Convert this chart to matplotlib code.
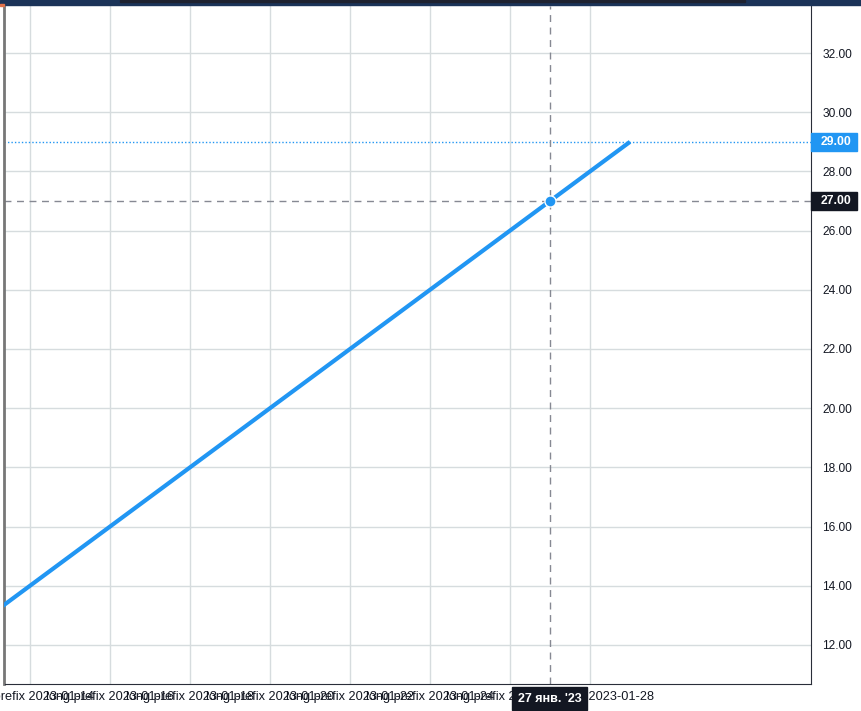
import matplotlib
matplotlib.use("Agg")
import matplotlib.pyplot as plt
import matplotlib.dates as mdates
from matplotlib.patches import Rectangle
import datetime as dt

plt.rcParams['font.family'] = ['Liberation Sans', 'DejaVu Sans']

# data: one point per day, value equals the day
days = [dt.date(2023, 1, d) for d in range(12, 30)]
values = [12, 13, 14, 15, 16, 17, 18, 19, 20, 21, 22, 23, 24, 25, 26, 27, 28, 29]
tick_days = [dt.date(2023, 1, d) for d in (14, 16, 18, 20, 22, 24, 26, 28)]
tick_labels = ['long prefix ' + d.strftime('%Y-%m-%d') for d in tick_days]
y_ticks = [12, 14, 16, 18, 20, 22, 24, 26, 28, 30, 32]
cross_day = dt.date(2023, 1, 27)
cross_value = 27
cross_label = "27 янв. '23"
last_value = values[-1]

blue = '#2196F3'
dark = '#131722'
grid = '#D6DCDE'

W, H = 862, 711
fig = plt.figure(figsize=(W / 100, H / 100), dpi=100)
ax = fig.add_axes([4.5 / W, (H - 684) / H, (811 - 4.5) / W, (684 - 6) / H])

x = mdates.date2num(days)
ax.plot(x, values, color=blue, lw=3, solid_capstyle='butt', zorder=3)

xmin = mdates.date2num(dt.date(2023, 1, 14)) - 25.5 / 40
xmax = mdates.date2num(dt.date(2023, 1, 27)) + 261 / 40
ax.set_xlim(xmin, xmax)
ax.set_ylim(10.68, 33.59)

ax.set_xticks(mdates.date2num(tick_days))
ax.set_xticklabels(tick_labels, fontsize=9.2, color=dark)
ax.set_yticks(y_ticks)
ax.set_yticklabels(['%.2f' % v for v in y_ticks], fontsize=8.6, color=dark)
ax.yaxis.tick_right()
ax.tick_params(axis='both', length=0)
ax.tick_params(axis='y', pad=8)
ax.tick_params(axis='x', pad=5)
ax.grid(True, color=grid, lw=1)
ax.set_axisbelow(True)

ax.spines['top'].set_visible(False)
ax.spines['right'].set_color('#2A2E39')
ax.spines['bottom'].set_color('#2A2E39')
ax.spines['left'].set_color('#777777')
ax.spines['left'].set_linewidth(2)

# last value price line
ax.axhline(last_value, color=blue, lw=1, ls=(0, (1, 1.5)), zorder=2)

# crosshair
cx = mdates.date2num(cross_day)
ax.axvline(cx, color='#868993', lw=1, ls=(0, (5, 4)), zorder=2)
ax.axhline(cross_value, color='#868993', lw=1, ls=(0, (5, 4)), zorder=2)
ax.plot([cx], [cross_value], 'o', ms=8, color=blue, mec='white', mew=1, zorder=4)

# price labels on the right scale
ytr = ax.get_yaxis_transform()
bw = 46 / 806.5
bh = 18 / 29.6
for val, col in [(last_value, blue), (cross_value, dark)]:
    ax.add_patch(Rectangle((1.0, val - bh / 2), bw, bh, transform=ytr,
                           color=col, clip_on=False, zorder=10))
    ax.text(1.0 + bw / 2 + 0.002, val, '%.2f' % val, transform=ytr, color='white',
            fontsize=8.8, fontweight='bold', ha='center', va='center',
            clip_on=False, zorder=11)

# time label of crosshair
xtr = ax.get_xaxis_transform()
ax.add_patch(Rectangle((cx - 75 / 80, -26 / 678), 75 / 40, 23 / 678, transform=xtr,
                       color=dark, clip_on=False, zorder=10))
ax.text(cx, -14.5 / 678, cross_label, transform=xtr, color='white', fontsize=9,
        fontweight='bold', ha='center', va='center', clip_on=False, zorder=11)

# top bar
fig.patches.append(Rectangle((0, (H - 5) / H), 1, 5 / H, transform=fig.transFigure,
                             color='#1B3358', zorder=0))
fig.patches.append(Rectangle((120 / W, (H - 2) / H), 625 / W, 2 / H,
                             transform=fig.transFigure, color='#1E2230', zorder=1))
fig.patches.append(Rectangle((0, (H - 6) / H), 4 / W, 2 / H, transform=fig.transFigure,
                             color='#E0714A', zorder=1))

fig.savefig('out.png', dpi=100)
